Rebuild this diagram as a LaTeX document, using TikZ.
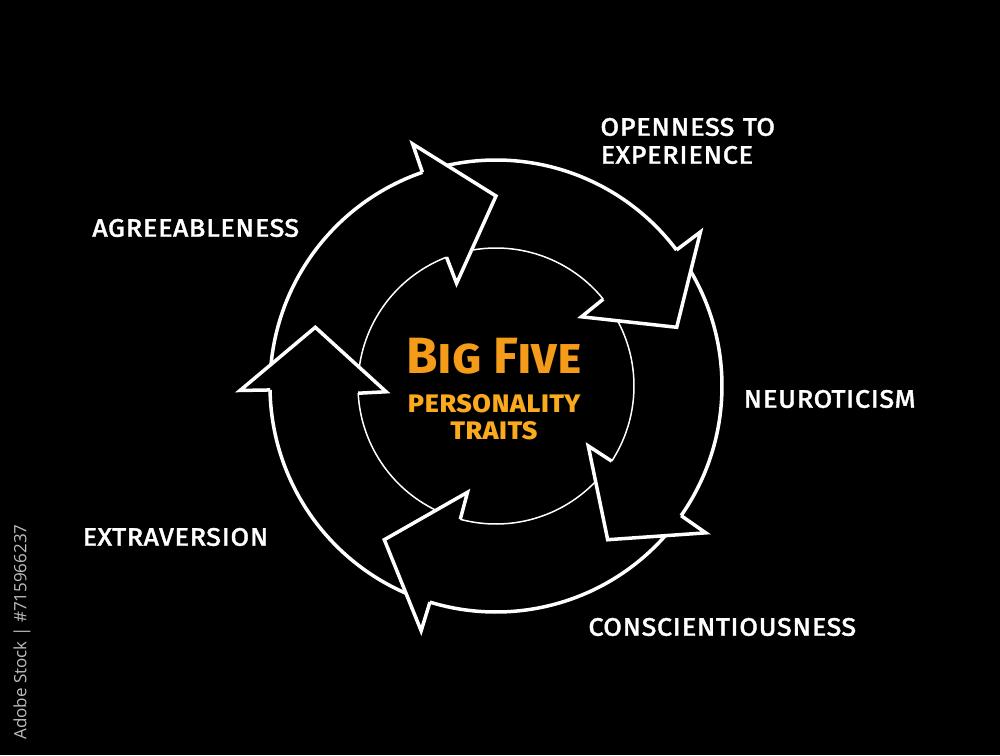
\documentclass[tikz,border=0pt]{standalone}
\usepackage{fontspec}
\setmainfont{Fira Sans}
\newfontfamily\hand[Letters=SmallCaps,FakeBold=1.2]{Fira Sans}
\newfontfamily\handbold[Letters=SmallCaps]{Fira Sans Bold}
\newfontfamily\idfont{Open Sans}
\definecolor{bigorange}{HTML}{F59B1A}
\definecolor{persorange}{HTML}{FBAA1E}
\definecolor{idgray}{HTML}{BDBDBD}
\begin{document}
\begin{tikzpicture}[x=1pt,y=1pt,
  lab/.style={text=white,font=\hand\fontsize{31}{31}\selectfont,inner sep=0pt},
  sublab/.style={text=persorange,font=\handbold\fontsize{31}{31}\selectfont,inner sep=0pt},
  outline/.style={draw=white,line width=3.5pt,line join=miter},
  innerline/.style={draw=white,line width=1.5pt}]
\fill[black] (-496,-369) rectangle (504,386);
\useasboundingbox (-496,-369) rectangle (504,386);
% radii: outer 226, inner 138, tip 190, outer barb 256, inner barb 110
\foreach \t in {90,162,234,306,18}{
  \fill[black] ({\t+19}:226) arc[start angle={\t+19},end angle={\t+84.53},radius=226]
    -- ({\t+72}:190) -- ({\t+82.21}:138)
    arc[start angle={\t+82.21},end angle={\t+21},radius=138]
    -- ({\t+21}:110) -- (\t:190) -- ({\t+19}:256) -- cycle;
}
\foreach \t in {90,162,234,306,18}{
  \draw[outline] ({\t+19}:226) arc[start angle={\t+19},end angle={\t+84.53},radius=226];
  \draw[outline] ({\t+19}:226) -- ({\t+19}:256) -- (\t:190) -- ({\t+21}:110) -- ({\t+21}:138);
  \draw[innerline] ({\t+21}:138) arc[start angle={\t+21},end angle={\t+82.21},radius=138];
}
% centre title
\node[text=bigorange,font=\handbold\fontsize{51}{51}\selectfont,inner sep=0pt] (title) at (-2,30) {Big Five};
\node[sublab] (sub1) at (-2,-18) {personality};
\node[sublab] (sub2) at (-2,-45) {traits};
% labels
\node[lab,anchor=west] (agr) at (-404,158) {agreeableness};
\node[lab,anchor=west] (ope1) at (104,259) {openness to};
\node[lab,anchor=west] (ope2) at (104,231) {experience};
\node[lab,anchor=west] (neu) at (247,-13) {neuroticism};
\node[lab,anchor=west] (ext) at (-414,-151) {extraversion};
\node[lab,anchor=west] (con) at (92,-241) {conscientiousness};
% stock id
\node[text=idgray,font=\idfont\fontsize{17}{17}\selectfont,rotate=90,inner sep=0pt] (id) at (-474,-246) {Adobe Stock | \#715966237};
\end{tikzpicture}
\end{document}
